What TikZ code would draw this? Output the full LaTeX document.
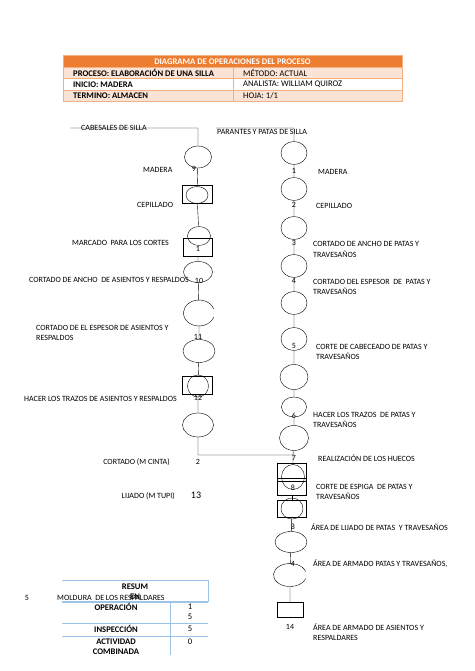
\documentclass[tikz,border=0pt]{standalone}
\usepackage{fontspec}
\setmainfont{Carlito}
\usetikzlibrary{positioning,shapes.geometric,calc}

\definecolor{hdrorange}{HTML}{ED7D31}
\definecolor{hdrpeach}{HTML}{FBE4D5}
\definecolor{hdrline}{HTML}{F4B083}
\definecolor{sumblue}{HTML}{9DC3E6}

\begin{document}
\begin{tikzpicture}[x = 1pt, y = -1pt,
	every node/.style = {inner sep = 0pt, font = \fontsize{8}{10.5}\selectfont},
	op/.style = {draw, ellipse, minimum width = 26pt, minimum height = 23pt},
	insp/.style = {draw, minimum width = 30pt, minimum height = 18pt},
	gap/.style = {ellipse, minimum width = 31pt, minimum height = 26pt},
	txt/.style = {anchor = west, align = left},
	rtxt/.style = {anchor = east},
	hdr/.style = {anchor = west, font = \fontsize{8.6}{9}\selectfont\bfseries},
	hdrr/.style = {anchor = west, font = \fontsize{8.6}{9}\selectfont},
	sum/.style = {align = center, font = \fontsize{8.6}{10}\selectfont\bfseries},
	val/.style = {align = center, font = \fontsize{8.6}{10}\selectfont}]
	\useasboundingbox (0,0) rectangle (474,671);

	% header table
	\fill[hdrorange] (63,55) rectangle (402,67);
	\fill[hdrpeach] (63,67) rectangle (402,78.5);
	\fill[hdrpeach] (63,90) rectangle (402,101.5);
	\draw[hdrline] (63,55) rectangle (402,101.5);
	\draw[hdrline] (63,67) -- (402,67) (63,78.5) -- (402,78.5) (63,90) -- (402,90) (233,67) -- (233,101.5);
	\node[font = \fontsize{8.6}{9}\selectfont\bfseries, text = white] (title) at (232.5,61.3) {DIAGRAMA DE OPERACIONES DEL PROCESO};
	\node[hdr] (proceso) at (73,72.9) {PROCESO: ELABORACIÓN DE UNA SILLA};
	\node[hdr] (inicio) at (73,84.4) {INICIO: MADERA};
	\node[hdr] (termino) at (73,95.9) {TERMINO: ALMACEN};
	\node[hdrr] (metodo) at (243,72.9) {MÉTODO: ACTUAL};
	\node[hdrr] (analista) at (243,84.4) {ANALISTA: WILLIAM QUIROZ};
	\node[hdrr] (hoja) at (243,95.9) {HOJA: 1/1};

	% left line: cabesales
	\coordinate (lstart) at (70,128);
	\coordinate (ltop) at (198,128);
	\node[op, minimum width = 27pt, minimum height = 22pt] (l1) at (198,157) {};
	\node[insp] (l2b) at (197,194) {};
	\node[op, minimum width = 22pt, minimum height = 17pt] (l2) at (197,195) {};
	\node[op, minimum width = 23pt, minimum height = 19pt] (l3) at (199,236) {};
	\node[insp, minimum width = 29pt] (l3b) at (198,247) {};
	\node[op, minimum width = 29pt, minimum height = 21pt] (l4) at (198,272) {};
	\node[gap] (l5) at (199,313) {};
	\draw ($(l5)+(18:15.5pt and 13pt)$) arc[start angle = 18, end angle = 342, x radius = 15.5pt, y radius = 13pt];
	\node[op, minimum width = 32pt, minimum height = 23pt] (l6) at (199,351) {};
	\node[insp] (l7b) at (197,385) {};
	\node[op, minimum width = 21pt, minimum height = 22pt] (l7) at (198,386) {};
	\node[op, minimum width = 31pt, minimum height = 24pt] (l8) at (198,425) {};
	\coordinate (ljoin) at (198,455);

	% right line: parantes y patas
	\coordinate (rstart) at (216,128);
	\coordinate (rtop) at (294,128);
	\node[op] (r1) at (294,153) {};
	\node[op] (r2) at (294,189) {};
	\node[op] (r3) at (294,228) {};
	\node[op] (r4) at (294,266) {};
	\node[op] (r5) at (294,303) {};
	\node[op] (r6) at (294,339) {};
	\node[op, minimum width = 28pt, minimum height = 25pt] (r7) at (294,377) {};
	\node[op, minimum width = 25pt, minimum height = 20pt] (r8) at (294,407) {};
	\node[op, minimum width = 29pt, minimum height = 25pt] (r9) at (294,438) {};
	\coordinate (rjoin) at (293,455);
	\node[insp, minimum width = 29pt] (r10a) at (292,472) {};
	\node[insp, minimum width = 29pt, minimum height = 17pt] (r10b) at (292,486.5) {};
	\node[op, minimum width = 23pt, minimum height = 25pt] (r10) at (293,477) {};
	\node[insp, minimum width = 29pt, minimum height = 17pt] (r11b) at (292,508.5) {};
	\node[op, minimum width = 22pt, minimum height = 21pt] (r11) at (292,508.5) {};
	\node[op, minimum width = 32pt, minimum height = 21pt] (r12) at (291,542) {};
	\node[gap, minimum width = 33pt, minimum height = 23pt] (r13) at (290,575) {};
	\draw ($(r13)+(18:16.5pt and 11.5pt)$) arc[start angle = 18, end angle = 342, x radius = 16.5pt, y radius = 11.5pt];
	\node[draw, minimum width = 26pt, minimum height = 15pt] (r14) at (290,610) {};

	% connectors
	\draw (lstart) -- (ltop) -- (l1) -- (l2) -- (l3);
	\draw (l3b) -- (l4) -- (l5) -- (l6) -- (l7) -- (l8) -- (ljoin) -- (rjoin);
	\draw (rstart) -- (rtop) -- (r1) -- (r2) -- (r3) -- (r4) -- (r5) -- (r6) -- (r7) -- (r8) -- (r9) -- (rjoin) -- (r10);
	\draw (r10b) -- (r11b);
	\draw (r11) -- (r12) -- (r13) -- (r14);

	% left texts
	\node[txt] (cabesales) at (81,127.5) {CABESALES DE SILLA};
	\node[txt] (maderaL) at (143,170) {MADERA};
	\node (n9) at (194,169) {9};
	\node[txt] (cepilladoL) at (137,205) {CEPILLADO};
	\node[txt] (marcado) at (72,243) {MARCADO \ PARA LOS CORTES};
	\node (n1L) at (198,249) {1};
	\node[rtxt] (anchoL) at (189,280) {CORTADO DE ANCHO \ DE ASIENTOS Y RESPALDOS};
	\node (n10) at (199,281) {10};
	\node[txt] (espesorL) at (36,333) {CORTADO DE EL ESPESOR DE ASIENTOS Y\\RESPALDOS};
	\node (n11) at (198,337) {11};
	\node[rtxt] (trazosL) at (177,399) {HACER LOS TRAZOS DE ASIENTOS Y RESPALDOS};
	\node (n12) at (198,398) {12};
	\node[rtxt] (cinta) at (170,462) {CORTADO (M CINTA)};
	\node (n2L) at (198,462) {2};
	\node[rtxt] (tupi) at (175,496) {LIJADO (M TUPI)};
	\node[font = \fontsize{10}{11}\selectfont] (n13) at (196,495) {13};
	\node (n5L) at (27,598) {5};
	\node[txt] (moldura) at (57,598) {MOLDURA \ DE LOS RESPALDARES};

	% right texts
	\node[txt] (parantes) at (217,131.5) {PARANTES Y PATAS DE SILLA};
	\node (m1) at (294,171) {1};
	\node[txt] (maderaR) at (318,172) {MADERA};
	\node (m2) at (294,205) {2};
	\node[txt] (cepilladoR) at (316,206) {CEPILLADO};
	\node (m3) at (294,243) {3};
	\node[txt] (anchoR) at (313,249.5) {CORTADO DE ANCHO DE PATAS Y\\TRAVESAÑOS};
	\node (m4) at (294,281) {4};
	\node[txt] (espesorR) at (313,287) {CORTADO DEL ESPESOR \ DE \ PATAS Y\\TRAVESAÑOS};
	\node (m5) at (294,346) {5};
	\node[txt] (cabeceado) at (316,352) {CORTE DE CABECEADO DE PATAS Y\\TRAVESAÑOS};
	\node (m6) at (294,416) {6};
	\node[txt] (trazosR) at (313,420) {HACER LOS TRAZOS \ DE PATAS Y\\TRAVESAÑOS};
	\node (m7) at (294,458) {7};
	\node[txt] (huecos) at (318,458) {REALIZACIÓN DE LOS HUECOS};
	\node (m8) at (293,488) {8};
	\node[txt] (espiga) at (316,492) {CORTE DE ESPIGA \ DE PATAS Y\\TRAVESAÑOS};
	\node (m8b) at (293,527) {8};
	\node[txt] (lijadoR) at (311,527) {ÁREA DE LIJADO DE PATAS \ Y TRAVESAÑOS};
	\node (m4b) at (293,564) {4};
	\node[txt] (armadoP) at (313,564) {ÁREA DE ARMADO PATAS Y TRAVESAÑOS,};
	\node (m14) at (290,627) {14};
	\node[txt] (armadoA) at (313,632) {ÁREA DE ARMADO DE ASIENTOS Y\\RESPALDARES};

	% summary table
	\draw[sumblue] (62,580) -- (208,580) -- (208,602);
	\draw[sumblue, line width = 1.2pt] (62,602) -- (208,602);
	\draw[sumblue] (62,623) -- (208,623) (62,636) -- (208,636) (170,602) -- (170,655);
	\node[sum] (resumen) at (135,592) {RESUM\\EN};
	\node[sum] (operacion) at (116,607) {OPERACIÓN};
	\node[val] (nop) at (190,612) {1\\5};
	\node[sum] (inspeccion) at (116,629) {INSPECCIÓN};
	\node[val] (ninsp) at (190,629) {5};
	\node[sum] (actividad) at (116,647) {ACTIVIDAD\\COMBINADA};
	\node[val] (nact) at (190,642) {0};
\end{tikzpicture}
\end{document}
